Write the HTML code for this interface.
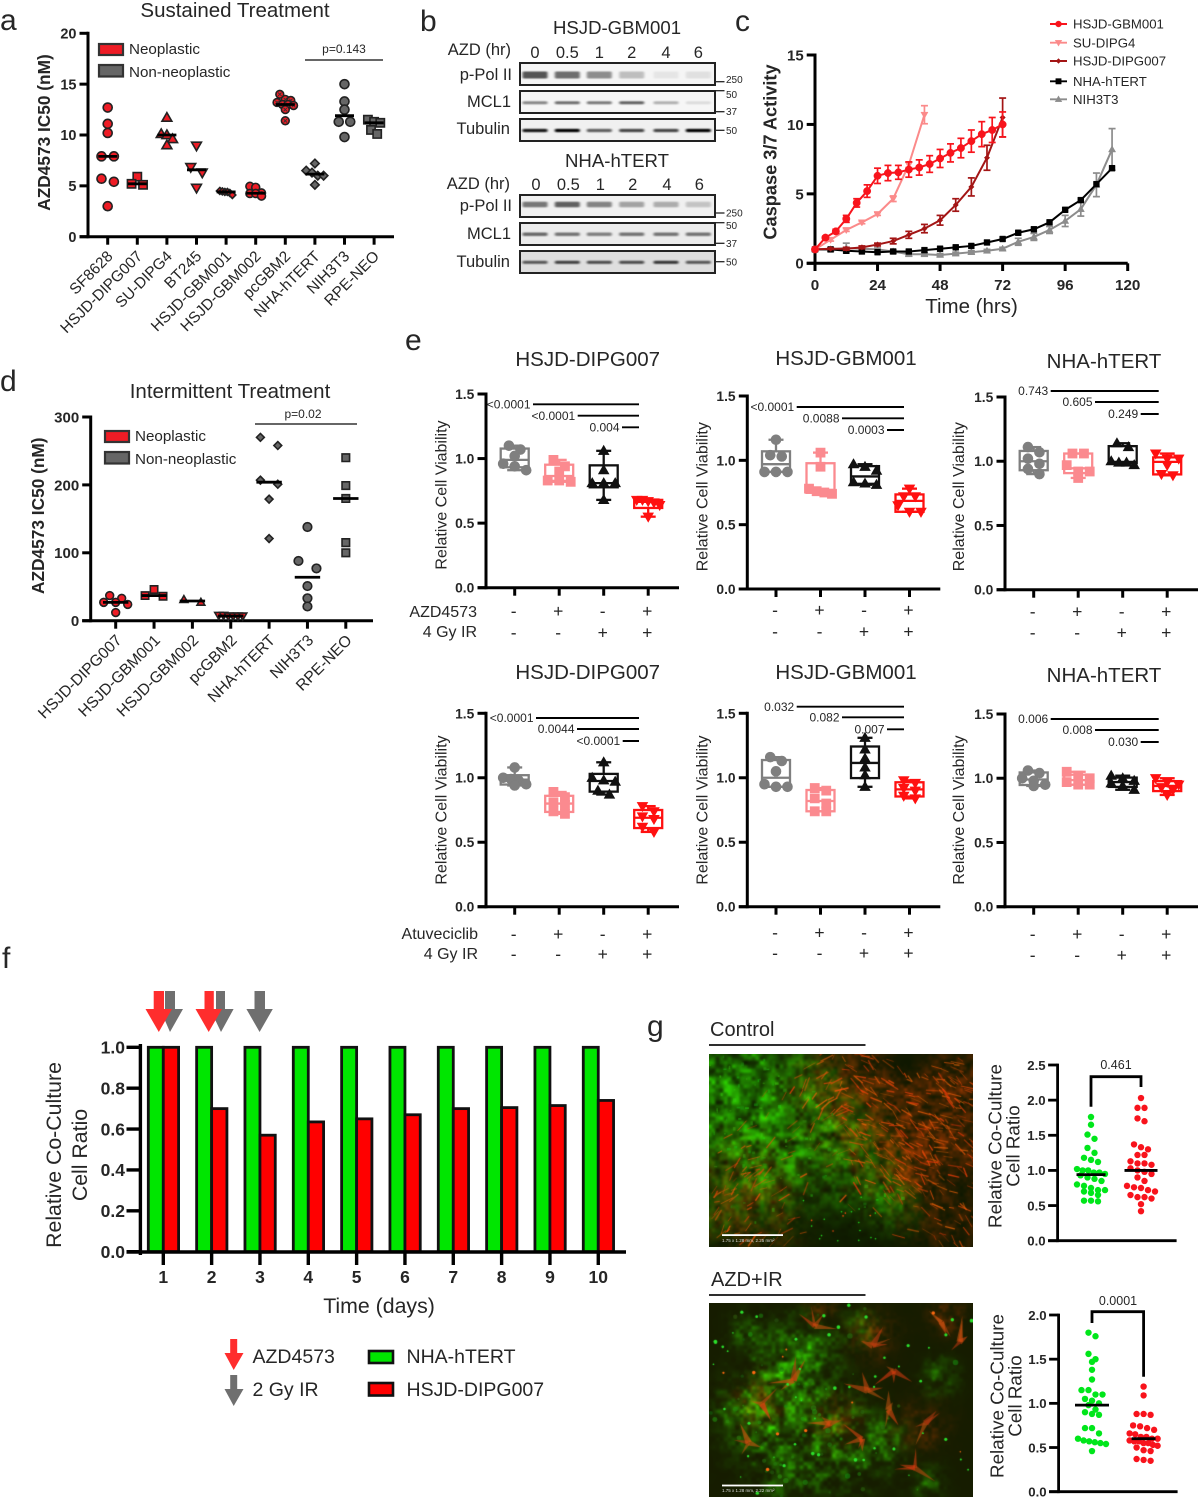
<!DOCTYPE html>
<html lang="en">
<head>
<meta charset="utf-8">
<title>AZD4573 figure</title>
<style>
html,body{margin:0;padding:0;background:#fff;}
#page{position:relative;width:1200px;height:1502px;overflow:hidden;background:#fff;font-family:"Liberation Sans",sans-serif;}
canvas{position:absolute;display:block;}
#figure{position:absolute;left:0;top:0;}
#figure text{font-family:"Liberation Sans",sans-serif;fill:#262626;}
.letter{font-size:30px;fill:#222;}
.title{font-size:20.5px;text-anchor:middle;}
.legend{font-size:15.2px;}
.blot{font-size:16.5px;}
.rel{font-size:16px;text-anchor:middle;}
.rowlab{font-size:16px;text-anchor:end;}
.big{font-size:20px;}
</style>
</head>
<body>
<div id="page">
<canvas id="micro1" width="264" height="193" style="left:709px;top:1054px"></canvas>
<canvas id="micro2" width="264" height="194" style="left:709px;top:1303px"></canvas>
<svg id="figure" width="1200" height="1502" viewBox="0 0 1200 1502" xmlns="http://www.w3.org/2000/svg">
  <text class="letter" x="0" y="30">a</text>
  <text class="letter" x="420" y="31">b</text>
  <text class="letter" x="735" y="31">c</text>
  <text class="letter" x="0" y="391">d</text>
  <text class="letter" x="405" y="350">e</text>
  <text class="letter" x="2" y="968">f</text>
  <text class="letter" x="647" y="1036">g</text>

  <text x="235" y="17" font-size="20.5" text-anchor="middle">Sustained Treatment</text>
  <text x="50" y="132.5" font-size="17.3" font-weight="bold" text-anchor="middle" transform="rotate(-90 50 132.5)">AZD4573 IC50 (nM)</text>
  <rect x="99" y="44" width="24" height="11" fill="#ee1c25" stroke="#333" stroke-width="2.2"/>
  <rect x="99" y="65" width="24" height="11.5" fill="#666" stroke="#333" stroke-width="2.2"/>
  <text class="legend" x="129" y="54">Neoplastic</text>
  <text class="legend" x="129" y="77">Non-neoplastic</text>
  <text x="344" y="53" font-size="12" text-anchor="middle">p=0.143</text>
  <line x1="305" y1="60" x2="383" y2="60" stroke="#333" stroke-width="1.4"/>

  <text x="230" y="398" font-size="20.5" text-anchor="middle">Intermittent Treatment</text>
  <text x="44" y="515.7" font-size="17.3" font-weight="bold" text-anchor="middle" transform="rotate(-90 44 515.7)">AZD4573 IC50 (nM)</text>
  <rect x="105" y="431" width="24" height="11" fill="#ee1c25" stroke="#333" stroke-width="2.2"/>
  <rect x="105" y="452" width="24" height="11.5" fill="#666" stroke="#333" stroke-width="2.2"/>
  <text class="legend" x="135" y="441">Neoplastic</text>
  <text class="legend" x="135" y="464">Non-neoplastic</text>
  <text x="303" y="418" font-size="12" text-anchor="middle">p=0.02</text>
  <line x1="255" y1="424" x2="357" y2="424" stroke="#333" stroke-width="1.4"/>

  <text x="617" y="34" font-size="18.6" text-anchor="middle">HSJD-GBM001</text>
  <text x="617" y="167" font-size="18.6" text-anchor="middle">NHA-hTERT</text>
  <text class="blot" x="511" y="55" text-anchor="end">AZD (hr)</text>
  <text class="blot" x="510" y="189" text-anchor="end">AZD (hr)</text>
  <text class="blot" x="512" y="80" text-anchor="end">p-Pol II</text>
  <text class="blot" x="511" y="107" text-anchor="end">MCL1</text>
  <text class="blot" x="510" y="134" text-anchor="end">Tubulin</text>
  <text class="blot" x="512" y="211" text-anchor="end">p-Pol II</text>
  <text class="blot" x="511" y="239" text-anchor="end">MCL1</text>
  <text class="blot" x="510" y="267" text-anchor="end">Tubulin</text>

  <text x="971.5" y="313" font-size="20.5" text-anchor="middle">Time (hrs)</text>
  <text x="776.5" y="152" font-size="18.2" font-weight="bold" text-anchor="middle" transform="rotate(-90 776.5 152)">Caspase 3/7 Activity</text>

  <text class="title" x="587.7" y="366">HSJD-DIPG007</text>
  <text class="title" x="846" y="365">HSJD-GBM001</text>
  <text class="title" x="1104" y="368">NHA-hTERT</text>
  <text class="title" x="587.7" y="679">HSJD-DIPG007</text>
  <text class="title" x="846" y="679">HSJD-GBM001</text>
  <text class="title" x="1104" y="682">NHA-hTERT</text>
  <text class="rel" x="446.5" y="495" transform="rotate(-90 446.5 495)">Relative Cell Viability</text>
  <text class="rel" x="707.5" y="496.7" transform="rotate(-90 707.5 496.7)">Relative Cell Viability</text>
  <text class="rel" x="964" y="496.7" transform="rotate(-90 964 496.7)">Relative Cell Viability</text>
  <text class="rel" x="446.5" y="810" transform="rotate(-90 446.5 810)">Relative Cell Viability</text>
  <text class="rel" x="707.5" y="810" transform="rotate(-90 707.5 810)">Relative Cell Viability</text>
  <text class="rel" x="964" y="810" transform="rotate(-90 964 810)">Relative Cell Viability</text>
  <text class="rowlab" x="477" y="617">AZD4573</text>
  <text class="rowlab" x="477" y="637">4 Gy IR</text>
  <text class="rowlab" x="478" y="939">Atuveciclib</text>
  <text class="rowlab" x="478" y="959">4 Gy IR</text>

  <text x="61" y="1155" font-size="21.3" text-anchor="middle" transform="rotate(-90 61 1155)">Relative Co-Culture</text>
  <text x="87" y="1155" font-size="21.3" text-anchor="middle" transform="rotate(-90 87 1155)">Cell Ratio</text>
  <text x="379" y="1313" font-size="21.3" text-anchor="middle">Time (days)</text>

  <polygon points="165,991 175,991 175,1009 183,1009 170,1032 160,1009 165,1009" fill="#6f6f6f"/>
  <polygon points="153.7,991 164,991 164,1009 172,1009 158.8,1032 145.5,1009 153.7,1009" fill="#ff2d2d"/>
  <polygon points="216,991 225,991 225,1009 233.6,1009 221,1032 210,1009 216,1009" fill="#6f6f6f"/>
  <polygon points="204.5,991 213.8,991 213.8,1009 222,1009 208.7,1032 195.5,1009 204.5,1009" fill="#ff2d2d"/>
  <polygon points="254.5,991 265,991 265,1009 272.8,1009 259.6,1032 246.4,1009 254.5,1009" fill="#6f6f6f"/>

  <polygon points="230.2,1339 237.2,1339 237.2,1353 243.5,1353 233.7,1370 224.5,1353 230.2,1353" fill="#ff2d2d"/>
  <polygon points="230.2,1375 237.2,1375 237.2,1389 243.5,1389 233.7,1406 224.5,1389 230.2,1389" fill="#6f6f6f"/>
  <text x="252.5" y="1363" font-size="19.5">AZD4573</text>
  <text x="252.5" y="1396" font-size="19.5">2 Gy IR</text>
  <rect x="369" y="1351" width="24" height="12" fill="#00e600" stroke="#111" stroke-width="2.6"/>
  <rect x="369" y="1383" width="24" height="12.5" fill="#ff0000" stroke="#111" stroke-width="2.6"/>
  <text x="406.5" y="1363" font-size="19.5">NHA-hTERT</text>
  <text x="406.5" y="1396" font-size="19.5">HSJD-DIPG007</text>

  <text x="710" y="1036" class="big">Control</text>
  <line x1="709" y1="1045" x2="865.5" y2="1045" stroke="#111" stroke-width="1.8"/>
  <text x="711" y="1286" class="big">AZD+IR</text>
  <line x1="709" y1="1295" x2="865.5" y2="1295" stroke="#111" stroke-width="1.8"/>
  <rect x="722" y="1234.2" width="61" height="1.8" fill="#fff"/>
  <text x="722" y="1242" font-size="4.5" style="fill:#ddd">1.75 x 1.28 mm, 2.25 mm²</text>
  <rect x="722" y="1484.6" width="61" height="1.8" fill="#fff"/>
  <text x="722" y="1492" font-size="4.5" style="fill:#ddd">1.75 x 1.28 mm, 2.22 mm²</text>

  <text x="1001.5" y="1146" font-size="18.8" text-anchor="middle" transform="rotate(-90 1001.5 1146)">Relative Co-Culture</text>
  <text x="1019.5" y="1146" font-size="18.8" text-anchor="middle" transform="rotate(-90 1019.5 1146)">Cell Ratio</text>
  <text x="1003.5" y="1396" font-size="18.8" text-anchor="middle" transform="rotate(-90 1003.5 1396)">Relative Co-Culture</text>
  <text x="1021.5" y="1396" font-size="18.8" text-anchor="middle" transform="rotate(-90 1021.5 1396)">Cell Ratio</text>
  <text x="1116" y="1069" font-size="12.5" text-anchor="middle">0.461</text>
  <text x="1118" y="1305" font-size="12.5" text-anchor="middle">0.0001</text>
  <path d="M1091 1106.7 V1076.7 H1141 V1087" fill="none" stroke="#000" stroke-width="2.8"/>
  <path d="M1092 1323 V1311.7 H1143.6 V1376.7" fill="none" stroke="#000" stroke-width="2.8"/>
</svg>
</div>
<script>
/* ---------- panel a data ---------- */
const aCategories = ['SF8628','HSJD-DIPG007','SU-DIPG4','BT245','HSJD-GBM001','HSJD-GBM002','pcGBM2','NHA-hTERT','NIH3T3','RPE-NEO'];
const aTickValues = [0,5,10,15,20];
const aSf8628 = [12.7,11.1,10.2,7.9,7.9,5.7,5.4,3.0];
const aDipg007 = [5.9,5.2,5.1];
const aSuDipg4 = [11.7,10.1,10.0,9.6,9.0];
const aBt245 = [8.95,6.85,6.3,4.8];
const aGbm001 = [4.5,4.45,4.4,4.4,4.3,4.1];
const aGbm002 = [4.95,4.85,4.3,4.25,4.25,4.0];
const aPcGbm2 = [14.0,13.5,13.4,13.2,13.0,13.0,12.9,12.5,11.4];
const aNha = [7.2,6.5,6.3,6.0,6.0,5.1];
const aNih3t3 = [15.0,13.3,12.5,11.3,11.3,9.8];
const aRpeNeo = [11.5,11.3,11.2,10.5,10.1];
const aSeries = [aSf8628,aDipg007,aSuDipg4,aBt245,aGbm001,aGbm002,aPcGbm2,aNha,aNih3t3,aRpeNeo];

/* ---------- panel d data ---------- */
const dCategories = ['HSJD-DIPG007','HSJD-GBM001','HSJD-GBM002','pcGBM2','NHA-hTERT','NIH3T3','RPE-NEO'];
const dTickValues = [0,100,200,300];
const dDipg007 = [37,33,27,27,24,12];
const dGbm001 = [46,37,36];
const dGbm002 = [31,27];
const dPcGbm2 = [8,8,7,7,7,7];
const dNha = [270,258,207,201,179,121];
const dNih3t3 = [138,88,77,51,33,21];
const dRpeNeo = [240,199,180,115,100];
const dSeries = [dDipg007,dGbm001,dGbm002,dPcGbm2,dNha,dNih3t3,dRpeNeo];

/* ---------- panel b data ---------- */
const blotLanes = ['0','0.5','1','2','4','6'];
const blotPpolTop = [.65,.55,.42,.22,.06,.08];
const blotMclTop = [.45,.55,.5,.6,.28,.1];
const blotTubTop = [.9,1,.6,.7,.7,1];
const blotPpolBottom = [.5,.6,.45,.32,.28,.18];
const blotMclBottom = [.55,.5,.45,.5,.5,.5];
const blotTubBottom = [.6,.7,.65,.65,.75,.6];

/* ---------- panel c data ---------- */
const cTimesGbm = [0,4,8,12,16,20,24,28,32,36,40,44,48,52,56,60,64,68,72];
const cGbm = [1,1.85,2.3,3.2,4.35,5.2,6.3,6.5,6.55,6.75,6.9,7.15,7.55,7.95,8.3,8.8,9.3,9.6,10];
const cGbmErr = [0,.1,.15,.25,.3,.45,.55,.55,.5,.55,.55,.6,.65,.65,.7,.8,.9,.9,.9];
const cTimesSu = [0,6,12,18,24,30,36,42];
const cSu = [1,1.7,2.4,2.95,3.55,4.65,7.1,10.7];
const cSuErr = [0,.1,.1,.1,.1,.2,.2,.65];
const cTimesDipg = [0,6,12,18,24,30,36,42,48,54,60,66,72];
const cDipg = [1,1.05,1.05,1.15,1.35,1.6,2.05,2.5,3.1,4.2,5.5,7.6,10.5];
const cDipgErr = [0,.05,.1,.1,.1,.2,.25,.3,.35,.45,.65,.9,1.4];
const cTimesLong = [0,6,12,18,24,30,36,42,48,54,60,66,72,78,84,90,96,102,108,114];
const cNha = [1,1,.9,.85,.8,.85,.85,.95,1.05,1.15,1.25,1.5,1.75,2.2,2.45,2.95,3.85,4.55,5.7,6.85];
const cNih = [1,1,1.1,1.05,1,.85,.65,.65,.6,.7,.8,.9,1.05,1.55,1.9,2.4,3.05,3.9,5.65,8.2];
const cNihErr = [0,.1,.35,.1,.1,.1,.1,.1,.1,.1,.1,.1,.1,.25,.25,.25,.4,.5,.85,1.5];
const cLegendNames = ['HSJD-GBM001','SU-DIPG4','HSJD-DIPG007','NHA-hTERT','NIH3T3'];
const cYTicks = [0,5,10,15];
const cXTicks = [0,24,48,72,96,120];

/* ---------- panel e data ---------- */
const eYTicks = [0,.5,1,1.5];
const e1Control = [1.10,1.07,1.02,.96,.94,.91];
const e1Drug = [.99,.94,.90,.83,.83,.82];
const e1Ir = [1.06,.91,.81,.81,.81,.68];
const e1Combo = [.68,.68,.67,.66,.64,.55];
const e2Control = [1.16,1.04,1.03,.91,.91,.91];
const e2Drug = [1.06,.95,.78,.76,.75,.74];
const e2Ir = [.97,.95,.92,.83,.82,.81];
const e2Combo = [.78,.72,.72,.65,.60,.60];
const e3Control = [1.11,1.07,1.02,.98,.94,.90];
const e3Drug = [1.06,1.06,.97,.92,.92,.87];
const e3Ir = [1.14,1.11,1.0,.99,.99,.97];
const e3Combo = [1.06,1.02,1.02,.97,.90,.89];
const e4Control = [1.08,1.0,.99,.98,.95,.94];
const e4Drug = [.89,.85,.81,.79,.74,.72];
const e4Ir = [1.12,1.0,.98,.97,.90,.87];
const e4Combo = [.78,.74,.70,.68,.62,.58];
const e5Control = [1.16,1.13,1.05,.95,.93,.93];
const e5Drug = [.92,.90,.84,.80,.74,.74];
const e5Ir = [1.31,1.22,1.15,1.08,1.02,.93];
const e5Combo = [.98,.96,.92,.90,.86,.84];
const e6Control = [1.06,1.04,1.0,.98,.95,.94];
const e6Drug = [1.05,1.02,1.0,.97,.95,.95];
const e6Ir = [1.02,1.0,.98,.96,.94,.91];
const e6Combo = [1.0,.97,.95,.93,.91,.87];
const e1Pvalues = ['<0.0001','<0.0001','0.004'];
const e2Pvalues = ['<0.0001','0.0088','0.0003'];
const e3Pvalues = ['0.743','0.605','0.249'];
const e4Pvalues = ['<0.0001','0.0044','<0.0001'];
const e5Pvalues = ['0.032','0.082','0.007'];
const e6Pvalues = ['0.006','0.008','0.030'];
const eSignsTop = ['-','+','-','+'];
const eSignsBottom = ['-','-','+','+'];

/* ---------- panel f data ---------- */
const fDays = ['1','2','3','4','5','6','7','8','9','10'];
const fNha = [1,1,1,1,1,1,1,1,1,1];
const fDipg = [1,.70,.57,.635,.65,.67,.70,.705,.715,.74];
const fYTicks = [0,.2,.4,.6,.8,1];

/* ---------- panel g data ---------- */
const g1Green = [1.76,1.65,1.51,1.45,1.32,1.25,1.18,1.15,1.12,1.02,1.0,1.0,.97,.97,.95,.93,.9,.88,.85,.8,.78,.75,.72,.72,.7,.68,.65,.57,.57,.56];
const g1Red = [2.03,1.89,1.89,1.74,1.7,1.37,1.33,1.3,1.22,1.22,1.13,1.1,1.1,1.08,1.03,1.0,.98,.95,.9,.85,.78,.76,.75,.72,.7,.65,.62,.62,.6,.52,.42];
const g1Ticks = [0,.5,1,1.5,2,2.5];
const g2Green = [1.8,1.76,1.56,1.5,1.47,1.38,1.27,1.15,1.15,1.1,1.1,1.05,1.03,1.0,.98,.93,.9,.88,.87,.72,.72,.66,.6,.58,.57,.56,.55,.54,.46];
const g2Red = [1.19,1.09,.88,.88,.87,.75,.74,.72,.7,.66,.65,.62,.62,.6,.6,.58,.57,.57,.55,.55,.53,.52,.5,.47,.46,.37,.36,.35];
const g2Ticks = [0,.5,1,1.5,2];

/* ---------- helpers ---------- */
const svgNs = 'http://www.w3.org/2000/svg';
const figure = document.getElementById('figure');
function mk(tag, attrs, name, parent) {
  const node = document.createElementNS(svgNs, tag);
  for (const k in attrs) node.setAttribute(k, attrs[k]);
  
  
  (parent || figure).appendChild(node);
  return node;
}
function label(x, y, str, size, weight, anchor, name, rot) {
  const attrs = {x:x, y:y, 'font-size':size, 'font-weight':weight, 'text-anchor':anchor};
  if (rot) attrs.transform = 'rotate(' + rot + ' ' + x + ' ' + y + ')';
  const t = mk('text', attrs, name);
  t.textContent = str;
  return t;
}
function seg(x1, y1, x2, y2, color, w, name) {
  return mk('line', {x1:x1, y1:y1, x2:x2, y2:y2, stroke:color, 'stroke-width':w}, name);
}
function linear(d0, d1, r0, r1) {
  return function (v) { return r0 + (v - d0) * (r1 - r0) / (d1 - d0); };
}
function marker(shape, x, y, r, fill, stroke, sw, name) {
  const st = {fill:fill, stroke:stroke, 'stroke-width':sw};
  const poly = function (pts) { st.points = pts.map(function (p) { return (x + p[0]).toFixed(2) + ',' + (y + p[1]).toFixed(2); }).join(' '); return mk('polygon', st, name); };
  if (shape === 'circle' || shape === 'xcircle') {
    st.cx = x; st.cy = y; st.r = r;
    const c = mk('circle', st, name);
    if (shape === 'xcircle') {
      const k = r * .45;
      seg(x - k, y - k, x + k, y + k, '#333', .9, name + '-hatch-a');
      seg(x - k, y + k, x + k, y - k, '#333', .9, name + '-hatch-b');
    }
    return c;
  }
  if (shape === 'square') { const h = r * .92; return poly([[-h,-h],[h,-h],[h,h],[-h,h]]); }
  if (shape === 'up') return poly([[0,-r*1.15],[r*1.12,r*.8],[-r*1.12,r*.8]]);
  if (shape === 'down') return poly([[0,r*1.15],[r*1.12,-r*.8],[-r*1.12,-r*.8]]);
  if (shape === 'diamond') return poly([[0,-r*1.15],[r*1.15,0],[0,r*1.15],[-r*1.15,0]]);
}
/* Prism-like scatter: values closer than `near` pixels share a row and spread around the centre,
   never wider than maxHalf on either side */
function swarm(values, yFn, near, spacing, maxHalf) {
  const sorted = values.slice().sort(function (a, b) { return b - a; });
  const out = [];
  let i = 0;
  while (i < sorted.length) {
    let j = i;
    while (j < sorted.length && yFn(sorted[j]) - yFn(sorted[i]) < near) j++;
    const n = j - i;
    let sp = spacing;
    if (maxHalf && n > 1) sp = Math.min(spacing, 2 * maxHalf / (n - 1));
    for (let k = 0; k < n; k++) out.push({v: sorted[i + k], dx: (k - (n - 1) / 2) * sp});
    i = j;
  }
  return out;
}
function quantile(values, p) {
  const s = values.slice().sort(function (a, b) { return a - b; });
  const pos = (s.length + 1) * p - 1;
  const lo = Math.max(0, Math.min(s.length - 1, Math.floor(pos)));
  const hi = Math.max(0, Math.min(s.length - 1, Math.ceil(pos)));
  return s[lo] + (s[hi] - s[lo]) * (pos - Math.floor(pos));
}
function yAxis(x, topY, botY, ticks, fmt, yFn, tickLen, w, fsize, gap, prefix) {
  seg(x, topY - w / 2, x, botY + w / 2, '#000', w, prefix + '-y-axis');
  ticks.forEach(function (t) {
    seg(x - tickLen, yFn(t), x, yFn(t), '#000', w, prefix + '-y-tick');
    label(x - tickLen - gap, yFn(t) + fsize * .36, fmt(t), fsize, 'bold', 'end', prefix + '-y-tick-label');
  });
}

/* ---------- panels a and d ---------- */
function dotPanel(prefix, cfg, categories, series, styles, tickValues, near) {
  const y = linear(cfg.d0, cfg.d1, cfg.y0, cfg.y1);
  const x = function (i) { return cfg.x0 + i * cfg.step; };
  yAxis(cfg.ax, cfg.y1, cfg.y0, tickValues, String, y, 8.5, 3, cfg.fs, 3, prefix);
  seg(cfg.ax - 8.5, cfg.y0, cfg.xEnd, cfg.y0, '#000', 3, prefix + '-x-axis');
  categories.forEach(function (c, i) {
    seg(x(i), cfg.y0, x(i), cfg.y0 + 8, '#000', 3, prefix + '-x-tick');
    label(x(i) + cfg.labDx, cfg.y0 + 20.5, c, cfg.labFs, 'normal', 'end', prefix + '-x-label', -45);
    const st = styles[i];
    swarm(series[i], y, st.near || near, st.spacing).forEach(function (p) {
      marker(st.shape, x(i) + p.dx, y(p.v), st.r, st.fill, '#222', 1.6, prefix + '-point-' + c.toLowerCase());
    });
    const m = quantile(series[i], .5);
    seg(x(i) - cfg.med, y(m), x(i) + cfg.med, y(m), '#000', 2.8, prefix + '-median-' + c.toLowerCase());
  });
}
const RED = '#ee1c25', GR = '#666';
dotPanel('a', {d0:0, d1:20, y0:236.7, y1:33.3, ax:88, x0:107.7, step:29.6, xEnd:394, fs:14.5, med:9.5, labDx:6, labFs:15.4},
  aCategories, aSeries, [
    {shape:'circle', r:4.5, fill:RED, spacing:12.4},
    {shape:'square', r:4.5, fill:RED, spacing:11.5},
    {shape:'up', r:4.4, fill:RED, spacing:5.7},
    {shape:'down', r:4.4, fill:RED, spacing:11.5},
    {shape:'diamond', r:3, fill:RED, spacing:2.5},
    {shape:'circle', r:4, fill:RED, spacing:5.8},
    {shape:'xcircle', r:3.9, fill:RED, spacing:5.5},
    {shape:'diamond', r:3.7, fill:GR, spacing:5.8},
    {shape:'circle', r:4.5, fill:GR, spacing:11.5},
    {shape:'square', r:4.5, fill:GR, spacing:6.2}
  ], aTickValues, 7);
dotPanel('d', {d0:0, d1:300, y0:620.7, y1:417, ax:90.7, x0:115.7, step:38.35, xEnd:373, fs:15, med:12.7, labDx:7, labFs:15.7},
  dCategories, dSeries, [
    {shape:'circle', r:3.9, fill:RED, spacing:12, near:4.5},
    {shape:'square', r:4, fill:RED, spacing:18, near:5.5},
    {shape:'up', r:3.5, fill:RED, spacing:17},
    {shape:'down', r:3.6, fill:RED, spacing:4.8},
    {shape:'diamond', r:3.4, fill:GR, spacing:17.4, near:8.5},
    {shape:'circle', r:4.3, fill:GR, spacing:18, near:8},
    {shape:'square', r:4.1, fill:GR, spacing:10}
  ], dTickValues, 8);

/* ---------- panel b ---------- */
mk('filter', {id:'bandBlur', x:'-30%', y:'-120%', width:'160%', height:'340%'}, 'band-blur-filter').innerHTML = '<feGaussianBlur stdDeviation="1.2 .9"/>';
const laneX = [535,567.3,599.3,631.7,666,698.3];
function blot(y0, y1, bandY, bandH, bg, levels, name) {
  mk('rect', {x:520, y:y0, width:195, height:y1 - y0, fill:bg}, name + '-background');
  levels.forEach(function (lv, i) {
    mk('rect', {x:laneX[i] - 12.5, y:bandY - bandH / 2, width:25, height:bandH, rx:1.5, fill:'#000', opacity:lv, filter:'url(#bandBlur)'}, name + '-band');
  });
  mk('rect', {x:520, y:y0, width:195, height:y1 - y0, fill:'none', stroke:'#222', 'stroke-width':2}, name + '-frame');
}
blot(63,85,75,7,'#f5f5f5',blotPpolTop,'blot-ppol-top');
blot(91,113,102.7,3,'#f6f6f6',blotMclTop,'blot-mcl1-top');
blot(119,141,130.5,3.2,'#f0f0f0',blotTubTop,'blot-tubulin-top');
blot(195,217,204.5,5.5,'#f0f0f0',blotPpolBottom,'blot-ppol-bottom');
blot(223,245,234.3,3.5,'#ebebeb',blotMclBottom,'blot-mcl1-bottom');
blot(251,273,262.3,3.2,'#dedede',blotTubBottom,'blot-tubulin-bottom');
blotLanes.forEach(function (l, i) {
  label(laneX[i], 58, l, 16.5, 'normal', 'middle', 'lane-label-top');
  label(laneX[i] + 1, 190, l, 16.5, 'normal', 'middle', 'lane-label-bottom');
});
[[81.7,83,'250'],[90.7,98,'50'],[111.7,115,'37'],[130.3,134,'50'],[213,216.5,'250'],[222.7,229,'50'],[243.3,247,'37'],[261.7,265.5,'50']].forEach(function (m) {
  seg(716, m[0], 724.5, m[0], '#222', 1.3, 'mw-tick');
  label(726, m[1], m[2], 10, 'normal', 'start', 'mw-label');
});

/* ---------- panel c ---------- */
(function () {
  const x = linear(0, 120, 815, 1127.7);
  const y = linear(0, 15, 263.3, 55);
  yAxis(815, 55, 263.3, cYTicks, String, y, 8.3, 3, 15, 3, 'c');
  seg(806.7, 263.3, 1127.7, 263.3, '#000', 3, 'c-x-axis');
  cXTicks.forEach(function (t) {
    seg(x(t), 263.3, x(t), 271, '#000', 3, 'c-x-tick');
    label(x(t), 290, String(t), 15.2, 'bold', 'middle', 'c-x-tick-label');
  });
  function series(times, vals, errs, color, shape, r, w, name) {
    mk('polyline', {points: times.map(function (t, i) { return x(t).toFixed(2) + ',' + y(vals[i]).toFixed(2); }).join(' '), fill:'none', stroke:color, 'stroke-width':w}, name + '-line');
    if (errs) times.forEach(function (t, i) {
      if (!errs[i]) return;
      seg(x(t), y(vals[i] - errs[i]), x(t), y(vals[i] + errs[i]), color, 1.7, name + '-error-bar');
      seg(x(t) - 3.5, y(vals[i] + errs[i]), x(t) + 3.5, y(vals[i] + errs[i]), color, 1.7, name + '-error-cap');
      seg(x(t) - 3.5, y(vals[i] - errs[i]), x(t) + 3.5, y(vals[i] - errs[i]), color, 1.7, name + '-error-cap');
    });
    times.forEach(function (t, i) { marker(shape, x(t), y(vals[i]), r, color, color, .5, name + '-point'); });
  }
  series(cTimesLong, cNih, cNihErr, '#8c8c8c', 'up', 3.2, 2, 'nih3t3');
  series(cTimesLong, cNha, null, '#000', 'square', 3.2, 2, 'nha-htert');
  series(cTimesDipg, cDipg, cDipgErr, '#a31515', 'diamond', 2.4, 2, 'hsjd-dipg007');
  series(cTimesSu, cSu, cSuErr, '#fb8a8a', 'down', 3.2, 2, 'su-dipg4');
  series(cTimesGbm, cGbm, cGbmErr, '#f8141c', 'circle', 3.7, 2, 'hsjd-gbm001');
  const colors = ['#f8141c','#fb8a8a','#a31515','#000','#8c8c8c'];
  const shapes = ['circle','down','diamond','square','up'];
  const rows = [24,42.7,61,81.3,99.3];
  cLegendNames.forEach(function (n, i) {
    seg(1050, rows[i], 1067, rows[i], colors[i], 1.9, 'c-legend-line');
    marker(shapes[i], 1058.5, rows[i], i === 2 ? 2.2 : 3, colors[i], colors[i], .4, 'c-legend-marker');
    label(1073, rows[i] + 4.7, n, 13.2, 'normal', 'start', 'c-legend-label');
  });
})();

/* ---------- panel e ---------- */
const eColors = ['#7f7f7f','#fb8a8f','#111111','#ff1010'];
const eShapes = ['circle','square','up','down'];
function boxPanel(id, cfg, groups, pvalues) {
  const y = linear(0, 1.5, cfg.y0, cfg.y1);
  const x = function (i) { return cfg.ax + 28.7 + i * 44.5; };
  yAxis(cfg.ax, cfg.y1, cfg.y0, eYTicks, function (v) { return v.toFixed(1); }, y, 8.5, 3, 13.8, 3.2, id);
  seg(cfg.ax - 8.5, cfg.y0, cfg.ax + 193, cfg.y0, '#000', 3, id + '-x-axis');
  groups.forEach(function (vals, i) {
    seg(x(i), cfg.y0, x(i), cfg.y0 + 8, '#000', 3, id + '-x-tick');
    label(x(i) - 1, cfg.rows[0] + 6, eSignsTop[i], 17.5, 'normal', 'middle', id + '-sign-top');
    label(x(i) - 1, cfg.rows[1] + 6, eSignsBottom[i], 17.5, 'normal', 'middle', id + '-sign-bottom');
    const c = eColors[i];
    const q1 = quantile(vals, .25), q2 = quantile(vals, .5), q3 = quantile(vals, .75);
    const lo = Math.min.apply(null, vals), hi = Math.max.apply(null, vals);
    seg(x(i), y(lo), x(i), y(q1), c, 2.3, id + '-whisker');
    seg(x(i), y(hi), x(i), y(q3), c, 2.3, id + '-whisker');
    seg(x(i) - 7.5, y(lo), x(i) + 7.5, y(lo), c, 2.3, id + '-whisker-cap');
    seg(x(i) - 7.5, y(hi), x(i) + 7.5, y(hi), c, 2.3, id + '-whisker-cap');
    mk('rect', {x:x(i) - 14, y:y(q3), width:28, height:y(q1) - y(q3), fill:'none', stroke:c, 'stroke-width':2.3}, id + '-box');
    seg(x(i) - 14, y(q2), x(i) + 14, y(q2), c, 2.3, id + '-box-median');
    swarm(vals, y, 7.5, 11.5, 11.5).forEach(function (p) {
      marker(eShapes[i], x(i) + p.dx, y(p.v), i < 2 ? 5 : 4.7, c, c, .6, id + '-point');
    });
  });
  pvalues.forEach(function (p, i) {
    seg(cfg.ax + cfg.starts[i], cfg.lines[i], cfg.ax + cfg.end, cfg.lines[i], '#000', 1.9, id + '-p-line');
    label(cfg.ax + cfg.starts[i] - 2.5, cfg.lines[i] + 4.2, p, 12, 'normal', 'end', id + '-p-value');
  });
}
boxPanel('e1', {ax:486, y0:587.7, y1:394, starts:[47,91.7,136], end:153, lines:[404.3,415.7,427.3], rows:[611,632.7]}, [e1Control,e1Drug,e1Ir,e1Combo], e1Pvalues);
boxPanel('e2', {ax:747.3, y0:589, y1:396, starts:[49.4,94.7,139.7], end:156.7, lines:[407,418.3,430], rows:[610,631.7]}, [e2Control,e2Drug,e2Ir,e2Combo], e2Pvalues);
boxPanel('e3', {ax:1005, y0:589.7, y1:397, starts:[45.7,90,135.7], end:153.7, lines:[391,402,414], rows:[611.7,632.7]}, [e3Control,e3Drug,e3Ir,e3Combo], e3Pvalues);
boxPanel('e4', {ax:486, y0:906.7, y1:713.3, starts:[50,91,136.7], end:153, lines:[718,729,741], rows:[934,954]}, [e4Control,e4Drug,e4Ir,e4Combo], e4Pvalues);
boxPanel('e5', {ax:747.3, y0:906.7, y1:713.3, starts:[49.4,94.7,139.7], end:156.7, lines:[706.7,717.3,729.3], rows:[932.7,953]}, [e5Control,e5Drug,e5Ir,e5Combo], e5Pvalues);
boxPanel('e6', {ax:1005, y0:906.7, y1:714, starts:[45.7,90,135.7], end:153.7, lines:[719,730,742], rows:[934,955]}, [e6Control,e6Drug,e6Ir,e6Combo], e6Pvalues);

/* ---------- panel f ---------- */
(function () {
  const y = linear(0, 1, 1251.7, 1047.3);
  const x = function (i) { return 163.3 + i * 48.33; };
  fDays.forEach(function (d, i) {
    mk('rect', {x:x(i) - 15, y:y(fNha[i]), width:15, height:y(0) - y(fNha[i]), fill:'#00e600', stroke:'#111', 'stroke-width':2.8}, 'bar-nha-day-' + d);
    mk('rect', {x:x(i), y:y(fDipg[i]), width:15.3, height:y(0) - y(fDipg[i]), fill:'#ff0000', stroke:'#111', 'stroke-width':2.8}, 'bar-dipg007-day-' + d);
    seg(x(i), 1252, x(i), 1265, '#000', 3.4, 'f-x-tick');
    label(x(i), 1283, d, 17.5, 'bold', 'middle', 'f-x-tick-label');
  });
  seg(140.4, 1044, 140.4, 1255, '#000', 3.4, 'f-y-axis');
  seg(126.5, 1252, 626, 1252, '#000', 3.4, 'f-x-axis');
  fYTicks.forEach(function (t) {
    seg(126.5, y(t), 140.4, y(t), '#000', 3.4, 'f-y-tick');
    label(125, y(t) + 6.3, t.toFixed(1), 17.5, 'bold', 'end', 'f-y-tick-label');
  });
})();

/* ---------- panel g scatter ---------- */
function ratioScatter(id, cfg, green, red, ticks) {
  const y = linear(0, ticks[ticks.length - 1], cfg.y0, cfg.y1);
  yAxis(cfg.ax, cfg.y1, cfg.y0, ticks, function (v) { return v.toFixed(1); }, y, 9.5, 2.8, 13.2, 2.5, id);
  seg(cfg.ax - 9.5, cfg.y0, cfg.xEnd, cfg.y0, '#000', 2.8, id + '-x-axis');
  [[green,'#00e61a',cfg.gx,cfg.gm],[red,'#f8131c',cfg.rx,cfg.rm]].forEach(function (s) {
    swarm(s[0], y, 5.8, 7, 14).forEach(function (p) {
      marker('circle', s[2] + p.dx, y(p.v), 3.2, s[1], s[1], 0, id + '-point');
    });
    const m = quantile(s[0], .5);
    seg(s[2] - s[3], y(m), s[2] + s[3], y(m), '#000', 2.8, id + '-median');
  });
}
ratioScatter('g1', {ax:1057.6, y0:1240.7, y1:1065, xEnd:1176.6, gx:1091, rx:1141, gm:14.5, rm:16.5}, g1Green, g1Red, g1Ticks);
ratioScatter('g2', {ax:1058.6, y0:1491.7, y1:1315, xEnd:1177.6, gx:1092, rx:1143.6, gm:17, rm:12}, g2Green, g2Red, g2Ticks);

/* ---------- micrograph textures (imagery, not chart data) ---------- */
function rng(seed) { let s = seed; return function () { s = (s * 1664525 + 1013904223) >>> 0; return s / 4294967296; }; }
function field(blobs, nx, ny, aspect) {
  let t = 0;
  for (let i = 0; i < blobs.length; i++) {
    const b = blobs[i], dx = nx - b[0], dy = (ny - b[1]) * aspect;
    t += b[3] * Math.exp(-(dx * dx + dy * dy) / (b[2] * b[2]));
  }
  return t;
}
function saturate(t) { return 1 - Math.exp(-1.3 * t); }
function makeNoise(rand, cell, W, H) {
  const cols = Math.ceil(W / cell) + 2, rows = Math.ceil(H / cell) + 2, g = [];
  for (let i = 0; i < cols * rows; i++) g.push(rand());
  return function (x, y) {
    const fx = x / cell, fy = y / cell, ix = Math.floor(fx), iy = Math.floor(fy);
    let tx = fx - ix, ty = fy - iy;
    tx = tx * tx * (3 - 2 * tx); ty = ty * ty * (3 - 2 * ty);
    const a = g[iy * cols + ix], b = g[iy * cols + ix + 1], c = g[(iy + 1) * cols + ix], d = g[(iy + 1) * cols + ix + 1];
    return (a + (b - a) * tx) * (1 - ty) + (c + (d - c) * tx) * ty;
  };
}
function paint(id, seed, bg, amps, greens, reds, darks, fine) {
  const cv = document.getElementById(id), ctx = cv.getContext('2d');
  const W = cv.width, H = cv.height, asp = H / W, rand = rng(seed);
  const n1 = makeNoise(rand, amps.c1, W, H), n2 = makeNoise(rand, amps.c2, W, H), n3 = makeNoise(rand, 9, W, H), n4 = makeNoise(rand, 3.5, W, H);
  const img = ctx.createImageData(W, H);
  for (let y = 0; y < H; y++) for (let x = 0; x < W; x++) {
    const nx = x / W, ny = y / H;
    const d = Math.min(1, field(darks, nx, ny, asp));
    const ng = Math.pow(2 * (.6 * n1(x, y) + .4 * n2(x, y)), amps.gp);
    const nr = Math.pow(2 * (.55 * n3(x, y) + .45 * n4(x, y)), amps.rp);
    const g = saturate(field(greens, nx, ny, asp)) * (1 - d) * ng;
    const r = saturate(field(reds, nx, ny, asp)) * (1 - d) * nr;
    const i = (y * W + x) * 4;
    img.data[i] = bg[0] + amps.r * r + .16 * amps.g * g;
    img.data[i + 1] = bg[1] + amps.g * g + .22 * amps.r * r;
    img.data[i + 2] = bg[2];
    img.data[i + 3] = 255;
  }
  ctx.putImageData(img, 0, 0);
  fine(ctx, W, H, rand, function (nx, ny) {
    const d = Math.min(1, field(darks, nx, ny, asp));
    return {g: saturate(field(greens, nx, ny, asp)) * (1 - d), r: saturate(field(reds, nx, ny, asp)) * (1 - d)};
  });
}
paint('micro1', 11, [14,24,0], {g:105, r:70, gp:1.3, rp:1.4, c1:9, c2:4},
  [[.08,.12,.2,.95],[.16,.34,.2,.7],[.3,.16,.14,.4],[.34,.52,.22,.55],[.58,.7,.11,.85],[.7,.8,.08,.45],[.24,.6,.18,.35],[.47,.42,.12,.4],[.02,.85,.07,.3]],
  [[.8,.22,.26,.85],[.9,.42,.2,.8],[.68,.42,.18,.6],[.5,.16,.16,.45],[.12,.72,.17,.5],[.2,.9,.15,.3],[.9,.86,.16,.35],[.72,.6,.12,.4]],
  [[.75,.01,.11,.95],[.48,.92,.22,.6],[.95,.68,.08,.7],[.12,.28,.07,.2],[.3,.33,.08,.25]],
  function (ctx, W, H, rand, at) {
    for (let n = 0; n < 700; n++) {
      const nx = rand(), ny = rand(), f = at(nx, ny);
      if (rand() < f.g * f.g) {
        ctx.fillStyle = 'rgba(' + (20 + rand() * 60) + ',' + (150 + rand() * 90) + ',20,.4)';
        ctx.fillRect(nx * W, ny * H, 1 + rand() * 3, 1 + rand() * 3);
      }
    }
    ctx.lineCap = 'round';
    for (let n = 0; n < 1500; n++) {
      const nx = rand(), ny = rand(), f = at(nx, ny);
      if (rand() < f.r * .8) {
        const a = (nx > .5 ? (ny < .5 ? .55 : .65) : -.7) + (rand() - .5) * 1.1, l = 4 + rand() * 10;
        ctx.strokeStyle = 'rgba(' + (225 + rand() * 30) + ',' + (55 + rand() * 50) + ',10,' + (.4 + rand() * .4) + ')';
        ctx.lineWidth = .6 + rand() * .9;
        ctx.beginPath(); ctx.moveTo(nx * W, ny * H); ctx.lineTo(nx * W + Math.cos(a) * l, ny * H + Math.sin(a) * l); ctx.stroke();
      }
    }
    for (let n = 0; n < 22; n++) {
      ctx.fillStyle = n % 5 === 0 ? '#ff4a10' : '#22d820';
      ctx.beginPath(); ctx.arc((.35 + rand() * .3) * W, (.72 + rand() * .25) * H, .8, 0, 7); ctx.fill();
    }
  });
paint('micro2', 29, [22,28,0], {g:85, r:70, gp:2, rp:1.8, c1:9, c2:4},
  [[.28,.45,.14,.8],[.36,.25,.11,.6],[.22,.68,.12,.55],[.45,.62,.13,.6],[.5,.82,.12,.4],[.3,.9,.09,.35],[.65,.72,.08,.5],[.87,.38,.06,.55],[.14,.14,.06,.4],[.82,.92,.06,.45],[.1,.55,.07,.35],[.58,.12,.06,.3]],
  [[.18,.5,.08,.5],[.62,.17,.08,.5],[.9,.06,.06,.55],[.47,.6,.08,.4],[.8,.62,.09,.35],[.42,.02,.05,.4]],
  [[.75,.3,.1,.5],[.12,.35,.05,.5],[.72,.45,.04,.3]],
  function (ctx, W, H, rand, at) {
    for (let n = 0; n < 350; n++) {
      const nx = rand(), ny = rand(), f = at(nx, ny);
      if (rand() < f.g) {
        const r = .8 + rand() * 2;
        ctx.fillStyle = 'rgba(' + (15 + rand() * 40) + ',' + (85 + rand() * 90) + ',15,.5)';
        ctx.beginPath(); ctx.arc(nx * W, ny * H, r, 0, 7); ctx.fill();
      }
    }
    const spikes = [[.32,.4],[.62,.22],[.88,.1],[.2,.52],[.46,.62],[.7,.35],[.82,.62],[.58,.7],[.68,.55],[.95,.2],[.78,.85],[.4,.12],[.15,.72],[.6,.45]];
    spikes.forEach(function (s) {
      const cx = s[0] * W, cy = s[1] * H;
      for (let k = 0; k < 4; k++) {
        const a = rand() * 6.28, l = 8 + rand() * 18, w = 1.5 + rand() * 2;
        ctx.fillStyle = 'rgba(' + (170 + rand() * 50) + ',' + (55 + rand() * 30) + ',15,.6)';
        ctx.beginPath();
        ctx.moveTo(cx - Math.sin(a) * w, cy + Math.cos(a) * w);
        ctx.lineTo(cx + Math.cos(a) * l, cy + Math.sin(a) * l);
        ctx.lineTo(cx + Math.sin(a) * w, cy - Math.cos(a) * w);
        ctx.closePath(); ctx.fill();
      }
    });
    for (let n = 0; n < 60; n++) {
      ctx.fillStyle = n % 6 === 0 ? '#ff6a10' : '#2ce02c';
      ctx.beginPath(); ctx.arc(rand() * W, rand() * H, .7 + rand() * 1.2, 0, 7); ctx.fill();
    }
  });
</script>
</body>
</html>
